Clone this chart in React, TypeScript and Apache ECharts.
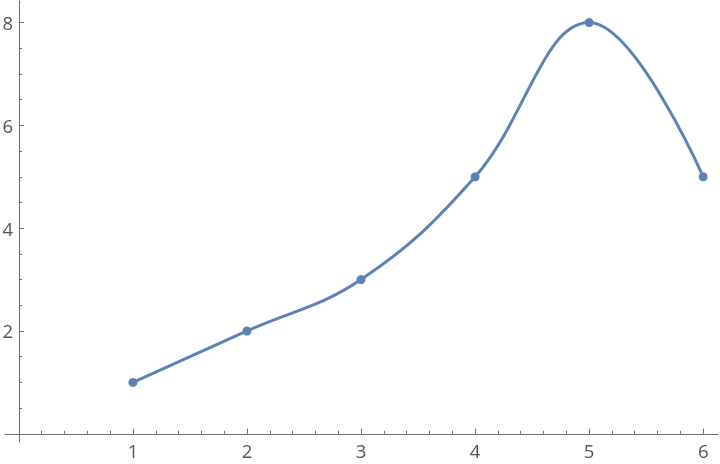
import React, { useEffect, useRef } from 'react'
import * as echarts from 'echarts'

const xValues = [1, 2, 3, 4, 5, 6]
const yValues = [1, 2, 3, 5, 8, 5]

const xTickLabels = [1, 2, 3, 4, 5, 6]
const yTickLabels = [2, 4, 6, 8]
const xMinorTicks = [0.2, 0.4, 0.6, 0.8, 1.2, 1.4, 1.6, 1.8, 2.2, 2.4, 2.6, 2.8, 3.2, 3.4, 3.6, 3.8, 4.2, 4.4, 4.6, 4.8, 5.2, 5.4, 5.6, 5.8]
const yMinorTicks = [0.5, 1, 1.5, 2.5, 3, 3.5, 4.5, 5, 5.5, 6.5, 7, 7.5]

const LINE_COLOR = '#5e81b5'
const AXIS_COLOR = '#6b6b6b'
const LABEL_COLOR = '#555555'

const X_MIN = -0.122
const X_MAX = 6.13
const Y_MIN = -0.16
const Y_MAX = 8.42

const App: React.FC = () => {
  const chartRef = useRef<HTMLDivElement>(null)

  useEffect(() => {
    if (!chartRef.current) return
    const chart = echarts.init(chartRef.current, null, { renderer: 'svg' })

    const axisBase = {
      type: 'value',
      splitLine: { show: false },
      minorTick: { show: false },
    }

    // labels stay anchored to the grid edge, not the on-zero axis, hence the odd margins
    chart.setOption({
      animation: false,
      grid: { left: 5, right: 2, top: 1, bottom: 22, containLabel: false, outerBoundsMode: 'none' },
      xAxis: [
        {
          ...axisBase,
          min: X_MIN,
          max: X_MAX,
          position: 'bottom',
          axisLine: { show: true, onZero: true, onZeroAxisIndex: 0, lineStyle: { color: AXIS_COLOR, width: 1 } },
          axisTick: { show: true, inside: true, length: 5, customValues: xTickLabels, lineStyle: { color: AXIS_COLOR } },
          axisLabel: {
            show: true,
            customValues: xTickLabels,
            margin: -1,
            color: LABEL_COLOR,
            fontSize: 18.5,
            fontFamily: 'Open Sans',
          },
        },
        {
          ...axisBase,
          min: X_MIN,
          max: X_MAX,
          position: 'bottom',
          axisLine: { show: true, onZero: true, onZeroAxisIndex: 0, lineStyle: { opacity: 0 } },
          axisTick: { show: true, inside: true, length: 3, customValues: xMinorTicks, lineStyle: { color: AXIS_COLOR } },
          axisLabel: { show: false },
        },
      ],
      yAxis: [
        {
          ...axisBase,
          min: Y_MIN,
          max: Y_MAX,
          position: 'left',
          axisLine: { show: true, onZero: true, onZeroAxisIndex: 0, lineStyle: { color: AXIS_COLOR, width: 1 } },
          axisTick: { show: true, inside: true, length: 5, customValues: yTickLabels, lineStyle: { color: AXIS_COLOR } },
          axisLabel: {
            show: true,
            customValues: yTickLabels,
            margin: -8,
            color: LABEL_COLOR,
            fontSize: 18.5,
            fontFamily: 'Open Sans',
          },
        },
        {
          ...axisBase,
          min: Y_MIN,
          max: Y_MAX,
          position: 'left',
          axisLine: { show: true, onZero: true, onZeroAxisIndex: 0, lineStyle: { opacity: 0 } },
          axisTick: { show: true, inside: true, length: 3, customValues: yMinorTicks, lineStyle: { color: AXIS_COLOR } },
          axisLabel: { show: false },
        },
      ],
      series: [
        {
          type: 'line',
          xAxisIndex: 0,
          yAxisIndex: 0,
          data: xValues.map((x, i) => [x, yValues[i]]),
          smooth: 0.4,
          symbol: 'circle',
          symbolSize: 9,
          showSymbol: true,
          lineStyle: { color: LINE_COLOR, width: 3 },
          itemStyle: { color: LINE_COLOR },
        },
      ],
    })

    return () => {
      chart.dispose()
    }
  }, [])

  return (
    <div
      ref={chartRef}
      style={{ position: 'fixed', left: 0, top: 0, width: 720, height: 464 }}
    />
  )
}

export default App
